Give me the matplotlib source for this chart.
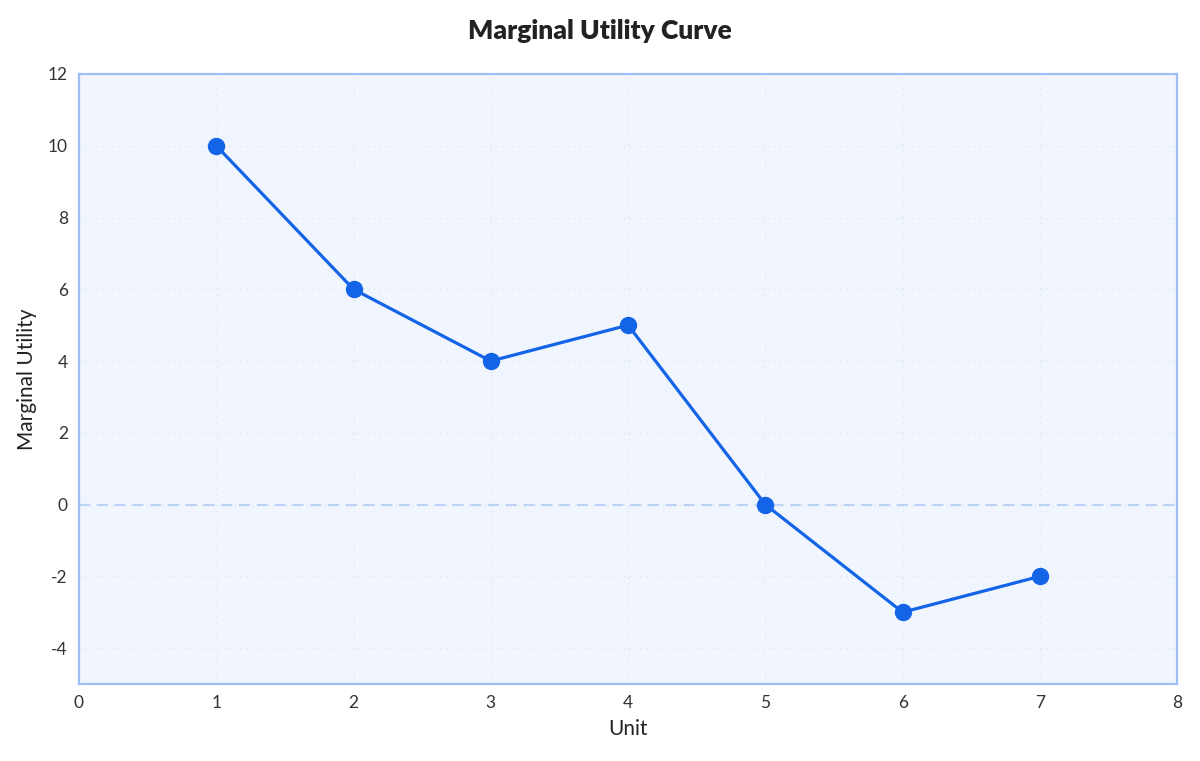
import matplotlib
matplotlib.use("Agg")
import matplotlib.pyplot as plt

# data
units = [1, 2, 3, 4, 5, 6, 7]
marginal_utility = [10, 6, 4, 5, 0, -3, -2]

x_ticks = [0, 1, 2, 3, 4, 5, 6, 7, 8]
y_ticks = [-4, -2, 0, 2, 4, 6, 8, 10, 12]

plt.rcParams["font.family"] = ["Lato", "DejaVu Sans"]
plt.rcParams["axes.unicode_minus"] = False

fig = plt.figure(figsize=(12, 7.61), dpi=100)
ax = fig.add_axes([0.0658, 0.1012, 0.9152, 0.8016])

ax.set_facecolor("#f1f6fe")
for s in ax.spines.values():
    s.set_color("#9dbff6")
    s.set_linewidth(1.6)

ax.grid(True, color="#dde6f3", linestyle=(0, (1, 3)), linewidth=1)
ax.set_axisbelow(True)

ax.axhline(0, color="#bcd3f5", linestyle=(0, (5, 3)), linewidth=1.6, zorder=1)

ax.plot(units, marginal_utility, color="#1464e8", linewidth=2.3,
        marker="o", markersize=11.5, zorder=3)

ax.set_xlim(0, 8)
ax.set_ylim(-5, 12)
ax.set_xticks(x_ticks)
ax.set_yticks(y_ticks)
ax.tick_params(length=0, labelsize=12.5, colors="#333333", pad=8)

ax.set_xlabel("Unit", fontsize=15, color="#222222", labelpad=6)
ax.set_ylabel("Marginal Utility", fontsize=15, color="#222222", labelpad=8)
fig.suptitle("Marginal Utility Curve", fontsize=19, fontweight="heavy",
             color="#222222", y=0.975)

fig.savefig("out.png", dpi=100, facecolor="white")
